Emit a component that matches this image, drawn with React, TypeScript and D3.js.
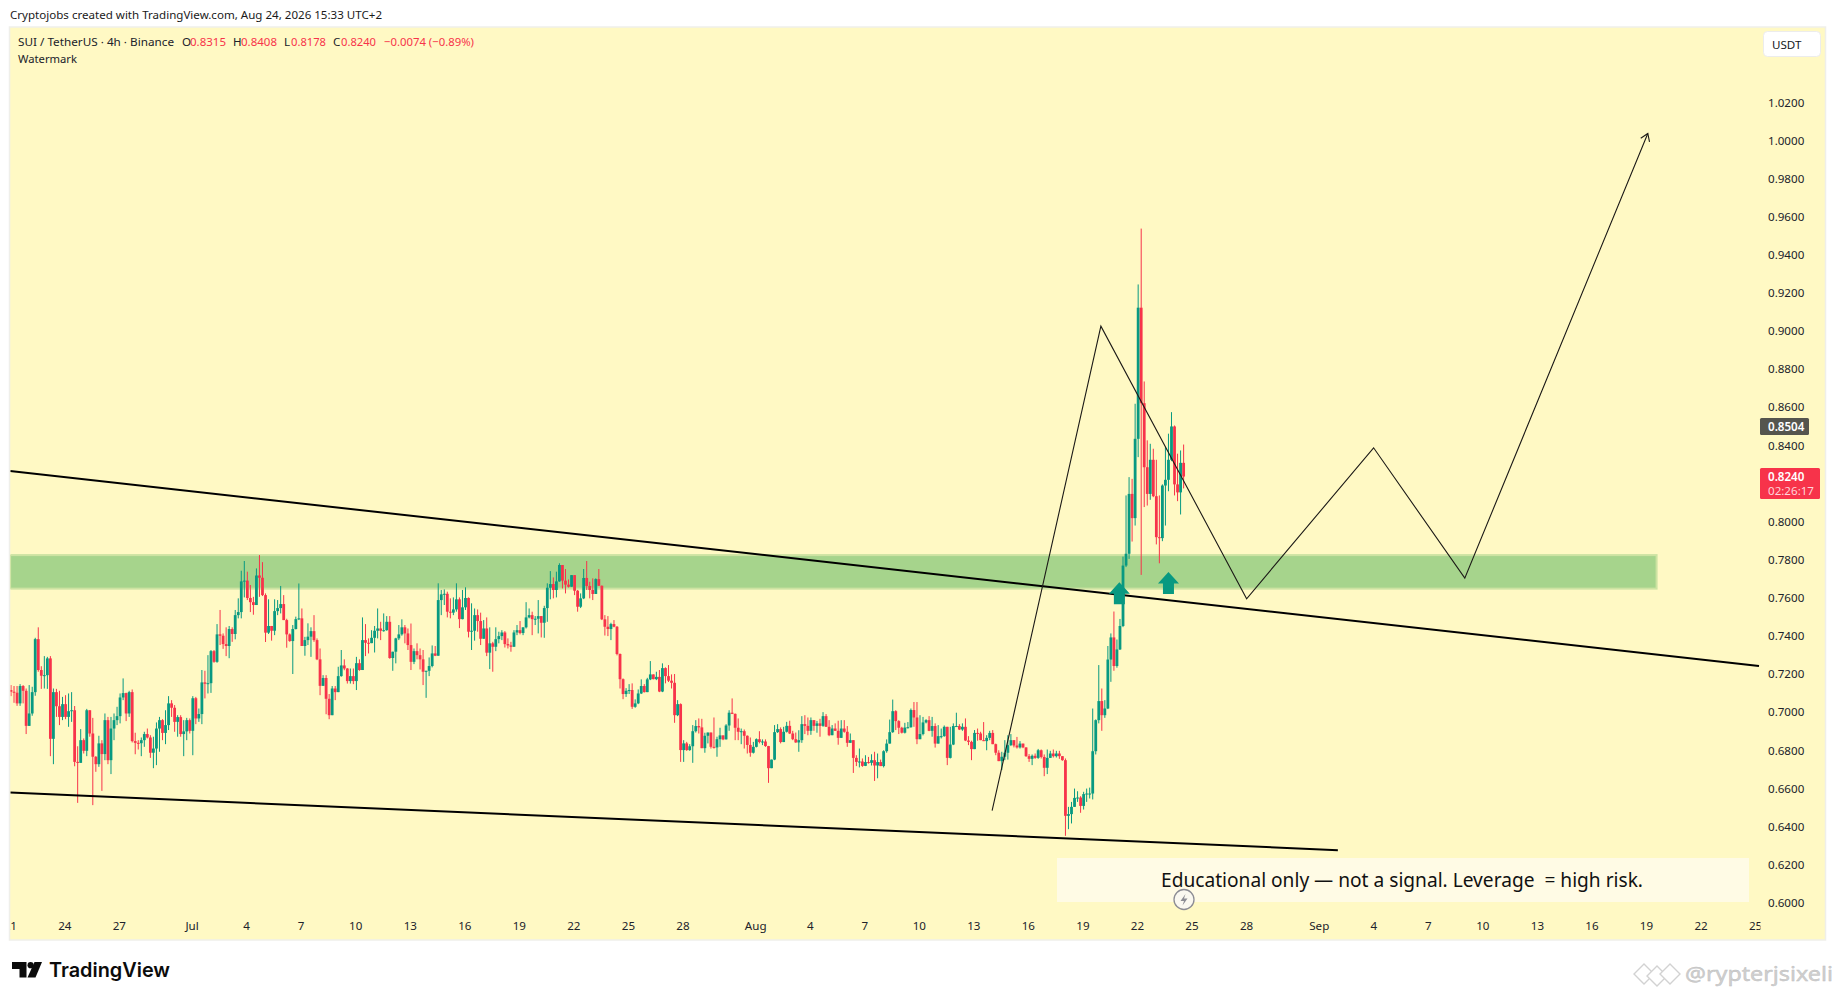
import React, { useRef, useEffect } from 'react';
import * as d3 from 'd3';

// prices are in ten-thousandths of a USDT. open = previous close
const firstOpen = 7120;
const closes = [
  7111,7106,7050,7141,7116,6932,6997,7109,7387,7225,7195,7198,7286,6864,7109,7035,6979,7046,6979,7009,
  7014,6743,6738,6857,6801,7014,6892,6770,6731,6840,6784,6962,6752,6918,6962,6983,7081,7104,6997,7109,
  6852,6843,6841,6857,6889,6871,6791,6813,6918,6962,6895,6936,7050,7027,6953,6978,6889,6903,6962,6906,
  7077,6971,6994,7160,7153,7156,7324,7268,7412,7405,7361,7351,7440,7414,7513,7529,7690,7694,7603,7581,
  7566,7721,7709,7618,7421,7456,7431,7534,7550,7571,7487,7412,7377,7440,7492,7496,7351,7382,7400,7429,
  7382,7281,7142,7183,7074,6988,7128,7109,7193,7249,7233,7167,7193,7167,7261,7225,7382,7368,7366,7394,
  7431,7443,7431,7434,7478,7288,7321,7391,7412,
  7449,7417,7356,7268,7324,7303,7281,7216,7221,7246,7312,7300,7592,7622,7625,7531,7526,7543,7596,7492,
  7554,7603,7426,7431,7513,7482,7389,7443,7316,7365,7347,7387,7403,7422,7361,7354,7347,7422,7434,7419,
  7449,7501,7513,7492,7494,7508,7473,7550,7657,7676,7645,7690,7776,7694,7673,7662,7723,7641,7557,7601,
  7708,7666,7645,7624,7702,7667,7491,7452,7440,7466,7452,7309,7177,7099,7116,7120,7032,7050,7102,7141,
  7109,7176,7202,7177,7189,7112,7235,7193,7169,7158,6988,7046,6805,6840,6805,6825,6904,6931,6924,6815,
  6880,6897,6822,6819,6862,6882,6861,6934,7001,6995,6922,6901,6904,6880,6832,6791,6822,6862,6847,6850,
  6826,6710,6755,6899,6915,6847,6901,6932,6892,6862,6845,6857,
  6941,6932,6906,6962,6932,6945,6932,6983,6927,6883,6918,6906,6869,6918,6901,6843,6857,6764,6743,6745,
  6722,6742,6738,6752,6724,6742,6721,6799,6839,6899,7009,6957,6922,6896,6923,6925,7015,6976,6862,6889,
  6950,6962,6906,6931,6839,6878,6878,6927,6764,6834,6931,6931,6913,6927,6855,6848,6810,6895,6892,6857,
  6852,6869,6895,6836,6791,6747,6770,6791,6831,6857,6829,6819,6839,6819,6773,6759,6775,6764,6804,6769,
  6712,6764,6787,6773,6787,6773,6752,6460,6469,6507,6554,6556,6512,6574,6577,6577,6799,6962,7062,6988,
  7023,7280,7396,7246,7333,7456,7773,7835,8149,8022,8438,9126,8625,8289,8149,8328,8137,7922,7917,8193,
  8223,8328,8503,8199,8157,8312,8240,
];
const highs = [
  7146,7141,7141,7151,7146,7128,7146,7137,7394,7449,7245,7298,7294,7298,7128,7126,7116,7084,7093,7102,
  7109,7036,6825,6915,6866,7021,7014,6974,6773,6880,6857,6997,6979,6979,6997,7032,7102,7181,7106,7116,
  7123,6896,6857,6871,6901,6918,6883,6875,6950,6979,6967,7014,7088,7067,7041,6988,6988,6962,6974,6971,
  7088,7084,7023,7225,7221,7303,7330,7330,7466,7540,7417,7449,7456,7449,7540,7601,7746,7797,7741,7671,
  7609,7758,7828,7791,7627,7596,7456,7596,7592,7666,7618,7494,7417,7461,7505,7679,7548,7399,7470,7449,
  7513,7391,7338,7198,7198,7099,7141,7141,7242,7330,7281,7235,7233,7233,7294,7281,7501,7466,7391,7434,
  7456,7548,7478,7522,7508,7508,7321,7394,7461,
  7491,7461,7443,7469,7338,7365,7338,7330,7221,7291,7354,7351,7680,7645,7648,7636,7601,7606,7680,7606,
  7645,7659,7606,7575,7548,7543,7526,7487,7501,7449,7373,7449,7426,7434,7429,7391,7373,7434,7461,7482,
  7449,7581,7548,7531,7508,7592,7508,7562,7680,7744,7711,7741,7785,7776,7755,7700,7723,7723,7645,7627,
  7755,7797,7688,7706,7706,7755,7669,7513,7508,7473,7487,7456,7312,7181,7130,7151,7155,7071,7123,7176,
  7151,7184,7272,7202,7216,7225,7260,7239,7251,7202,7204,7067,7050,6857,6848,6836,6936,6962,6971,6969,
  6896,6897,6896,6976,6875,6922,6882,6941,7014,7076,6997,6971,6918,6913,6882,6871,6848,6866,6904,6861,
  6861,6827,6755,6936,6941,6924,6927,6953,6959,6906,6897,6909,
  6983,6988,6976,6976,6962,6958,6969,7004,6994,6962,6936,6945,6959,6962,6962,6931,6892,6857,6778,6813,
  6761,6778,6769,6783,6796,6787,6755,6804,6861,6965,7070,7014,6962,6927,6948,6952,7023,7057,7057,6988,
  6979,6967,6983,6979,6945,6936,6918,6934,6927,6927,6945,7001,6941,6945,6971,6878,6854,6910,6918,6901,
  6952,6883,6906,6910,6839,6804,6796,6857,6883,6889,6857,6874,6852,6839,6819,6784,6782,6787,6811,6808,
  6782,6808,6801,6808,6801,6801,6761,6761,6507,6533,6603,6589,6563,6586,6603,6608,7023,6966,7251,7128,
  7067,7351,7417,7532,7385,7493,7820,8141,8237,8228,8622,9248,9541,8739,8430,8412,8386,8328,8141,8199,
  8395,8465,8578,8508,8360,8377,8408,
];
const lows = [
  7088,7053,7037,7037,7050,6889,6932,6985,7090,7216,7126,7128,7126,6773,6731,6979,6936,6962,6967,6927,
  6953,6720,6528,6738,6787,6773,6875,6516,6691,6717,6591,6752,6731,6679,6857,6936,6945,7067,6957,6979,
  6845,6783,6808,6773,6822,6866,6764,6710,6726,6796,6857,6836,6910,6979,6901,6875,6875,6773,6857,6892,
  6778,6941,6953,6941,7076,7102,7105,7263,7263,7356,7336,7298,7287,7373,7386,7496,7496,7606,7592,7529,
  7515,7566,7609,7613,7372,7414,7379,7408,7513,7522,7487,7342,7373,7204,7438,7487,7351,7300,7356,7294,
  7373,7277,7093,7142,6993,6967,6988,7067,7109,7190,7224,7154,7154,7151,7120,7221,7225,7298,7312,7368,
  7317,7391,7382,7426,7431,7284,7221,7260,7382,
  7405,7365,7330,7225,7256,7281,7228,7146,7079,7193,7239,7298,7300,7513,7566,7501,7496,7513,7531,7445,
  7491,7540,7396,7330,7379,7426,7356,7389,7298,7230,7216,7324,7365,7382,7343,7338,7321,7347,7408,7412,
  7408,7443,7496,7408,7461,7417,7396,7394,7478,7596,7601,7606,7688,7653,7627,7658,7662,7618,7531,7550,
  7597,7645,7601,7592,7627,7667,7487,7406,7403,7382,7449,7302,7128,7072,7084,7099,7021,7027,7046,7099,
  7107,7109,7172,7176,7172,7109,7109,7155,7162,7128,6948,6983,6743,6743,6801,6801,6738,6897,6892,6815,
  6791,6840,6813,6813,6770,6822,6857,6861,6906,6994,6857,6857,6836,6813,6787,6770,6787,6819,6840,6831,
  6822,6633,6710,6752,6895,6840,6847,6897,6889,6857,6843,6796,
  6843,6889,6883,6885,6906,6896,6875,6927,6927,6878,6883,6906,6833,6869,6896,6822,6843,6685,6721,6714,
  6717,6721,6734,6724,6643,6657,6721,6714,6791,6839,6895,6910,6889,6892,6892,6918,6922,6927,6836,6862,
  6882,6945,6904,6875,6818,6839,6866,6875,6726,6761,6831,6927,6910,6906,6852,6831,6752,6810,6854,6857,
  6852,6804,6857,6836,6778,6747,6700,6752,6755,6826,6819,6813,6813,6815,6769,6743,6726,6759,6759,6761,
  6668,6679,6766,6766,6766,6759,6749,6355,6390,6420,6512,6533,6476,6493,6533,6551,6546,6782,6945,6906,
  6974,7020,7163,7221,7237,7330,7450,7765,7808,7899,7983,8342,7724,8080,8088,8118,8132,7884,7785,7901,
  7983,8163,8321,8141,8111,8041,8178,
];

const priceTicks = [1.02, 1.0, 0.98, 0.96, 0.94, 0.92, 0.9, 0.88, 0.86, 0.84, 0.8, 0.78, 0.76, 0.74, 0.72, 0.7, 0.68, 0.66, 0.64, 0.62, 0.6];
const dayLabels = ['21', '24', '27', 'Jul', '4', '7', '10', '13', '16', '19', '22', '25', '28', 'Aug', '4', '7', '10', '13', '16', '19', '22', '25', '28', 'Sep', '4', '7', '10', '13', '16', '19', '22', '25'];
const dayOffsets = [0, 3, 6, 10, 13, 16, 19, 22, 25, 28, 31, 34, 37, 41, 44, 47, 50, 53, 56, 59, 62, 65, 68, 72, 75, 78, 81, 84, 87, 90, 93, 96];

// drawings: bar index, price
const upperTrend: [number, number][] = [[-0.3, 0.8269], [576.9, 0.7246]];
const lowerTrend: [number, number][] = [[-0.3, 0.6582], [437.9, 0.628]];
const projection: [number, number][] = [[323.8, 0.6487], [359.7, 0.9029], [407.8, 0.7599], [449.7, 0.8391], [479.8, 0.7707], [540.2, 1.004]];
const zoneBars = [-0.3, 543.1];
const zonePrices = [0.7828, 0.7652];
const arrowBars = [365.8, 382];
const arrowTips = [0.7685, 0.7739];

const GREEN = '#089981';
const RED = '#F7334A';
const FONT = '"Noto Sans", sans-serif';

export default function App() {
  const svgRef = useRef<SVGSVGElement | null>(null);

  useEffect(() => {
    if (!svgRef.current) return;
    const svg = d3.select(svgRef.current);
    svg.selectAll('*').remove();

    const x = d3.scaleLinear().domain([0, 600]).range([11, 1829]);
    const y = d3.scaleLinear().domain([0.6, 1.02]).range([903.5, 103]);
    const yp = (v: number) => y(v / 10000);

    // pane
    svg.append('rect').attr('x', 9.5).attr('y', 27).attr('width', 1816).attr('height', 913)
      .attr('fill', '#FFF9C4').attr('stroke', '#EFEFEA').attr('stroke-width', 1.5);

    const defs = svg.append('defs');
    defs.append('clipPath').attr('id', 'plot').append('rect')
      .attr('x', 10.5).attr('y', 28).attr('width', 1750).attr('height', 911);

    const plot = svg.append('g').attr('clip-path', 'url(#plot)');

    // support zone
    plot.append('rect')
      .attr('x', x(zoneBars[0])).attr('y', y(zonePrices[0]))
      .attr('width', x(zoneBars[1]) - x(zoneBars[0]))
      .attr('height', y(zonePrices[1]) - y(zonePrices[0]))
      .attr('fill', '#A6D48C').attr('stroke', '#CDE3A2').attr('stroke-width', 2);

    // candles
    const candles = plot.append('g');
    closes.forEach((c, i) => {
      const o = i === 0 ? firstOpen : closes[i - 1];
      const col = c >= o ? GREEN : RED;
      const cx = x(i);
      candles.append('line')
        .attr('x1', cx).attr('x2', cx)
        .attr('y1', yp(Math.max(highs[i], c, o))).attr('y2', yp(Math.min(lows[i], c, o)))
        .attr('stroke', col).attr('stroke-width', 1);
      candles.append('rect')
        .attr('x', cx - 1.4).attr('width', 2.8)
        .attr('y', yp(Math.max(o, c)))
        .attr('height', Math.max(1, yp(Math.min(o, c)) - yp(Math.max(o, c))))
        .attr('fill', col);
    });

    // trend lines
    const line = d3.line<[number, number]>().x(d => x(d[0])).y(d => y(d[1]));
    [upperTrend, lowerTrend].forEach(t => {
      plot.append('path').attr('d', line(t)).attr('fill', 'none')
        .attr('stroke', '#000').attr('stroke-width', 2);
    });

    // projected path with open arrow head
    plot.append('path').attr('d', line(projection)).attr('fill', 'none')
      .attr('stroke', '#1c1a17').attr('stroke-width', 1.1).attr('stroke-linejoin', 'miter');
    const tip = projection[projection.length - 1];
    const prev = projection[projection.length - 2];
    const ang = Math.atan2(y(tip[1]) - y(prev[1]), x(tip[0]) - x(prev[0]));
    const head = d3.path();
    const hl = 8.5;
    head.moveTo(x(tip[0]) + hl * Math.cos(ang + 2.55), y(tip[1]) + hl * Math.sin(ang + 2.55));
    head.lineTo(x(tip[0]), y(tip[1]));
    head.lineTo(x(tip[0]) + hl * Math.cos(ang - 2.55), y(tip[1]) + hl * Math.sin(ang - 2.55));
    plot.append('path').attr('d', head.toString()).attr('fill', 'none')
      .attr('stroke', '#1c1a17').attr('stroke-width', 1.1);

    // buy arrows
    arrowBars.forEach((b, i) => {
      const cx = x(b);
      const ty = y(arrowTips[i]);
      const pts = [[0, 0], [10.5, 11.5], [5.5, 11.5], [5.5, 22], [-5.5, 22], [-5.5, 11.5], [-10.5, 11.5]];
      plot.append('polygon')
        .attr('points', pts.map(p => `${cx + p[0]},${ty + p[1]}`).join(' '))
        .attr('fill', GREEN);
    });

    // disclaimer box
    svg.append('rect').attr('x', 1057).attr('y', 858).attr('width', 692).attr('height', 44).attr('fill', '#FFFBE5');
    svg.append('text').attr('x', 1161).attr('y', 886.5)
      .attr('font-family', FONT).attr('font-size', 19.5).attr('fill', '#111')
      .text('Educational only — not a signal. Leverage  = high risk.')
      .attr('textLength', 482).attr('lengthAdjust', 'spacingAndGlyphs')
      .attr('xml:space', 'preserve');

    // lightning badge
    svg.append('circle').attr('cx', 1184).attr('cy', 899.5).attr('r', 10)
      .attr('fill', '#FAF8F0').attr('stroke', '#8C8C94').attr('stroke-width', 1.3);
    svg.append('path').attr('d', 'M1185.5 894 L1180.5 901 L1184 901 L1182.5 905.5 L1187.5 898.5 L1184 898.5 Z').attr('fill', '#8C8C94');

    // price axis
    priceTicks.forEach(p => {
      svg.append('text').attr('x', 1768).attr('y', y(p) + 3.5)
        .attr('font-family', FONT).attr('font-size', 11.6).attr('fill', '#20222a')
        .text(p.toFixed(4));
    });

    // date axis
    const axisG = svg.append('g').attr('clip-path', 'url(#plot)');
    dayLabels.forEach((l, i) => {
      axisG.append('text').attr('x', x(dayOffsets[i] * 6) - 0.7).attr('y', 929.5)
        .attr('text-anchor', 'middle')
        .attr('font-family', FONT).attr('font-size', 11.6).attr('fill', '#20222a')
        .text(l);
    });

    // USDT button
    svg.append('rect').attr('x', 1763.5).attr('y', 31.5).attr('width', 57).attr('height', 25).attr('rx', 4)
      .attr('fill', '#fff').attr('stroke', '#ECECEC');
    svg.append('text').attr('x', 1772).attr('y', 48.5)
      .attr('font-family', FONT).attr('font-size', 11.6).attr('fill', '#131722').text('USDT');

    // price labels
    svg.append('rect').attr('x', 1760).attr('y', 418).attr('width', 49).attr('height', 17).attr('rx', 1.5).attr('fill', '#55554E');
    svg.append('text').attr('x', 1768).attr('y', 430.5).attr('font-family', FONT).attr('font-size', 11.6)
      .attr('font-weight', 600).attr('fill', '#fff').text('0.8504');
    svg.append('rect').attr('x', 1760).attr('y', 468).attr('width', 60).attr('height', 31).attr('rx', 1.5).attr('fill', RED);
    svg.append('text').attr('x', 1768).attr('y', 481).attr('font-family', FONT).attr('font-size', 11.6)
      .attr('font-weight', 600).attr('fill', '#fff').text('0.8240');
    svg.append('text').attr('x', 1768).attr('y', 494.5).attr('font-family', FONT).attr('font-size', 11.6)
      .attr('fill', '#FFD5DA').text('02:26:17');

    // header
    const txt = (s: string, tx: number, ty: number, fill: string, w?: number) => {
      const t = svg.append('text').attr('x', tx).attr('y', ty)
        .attr('font-family', FONT).attr('font-size', 11.6).attr('fill', fill).text(s);
      if (w) t.attr('textLength', w).attr('lengthAdjust', 'spacingAndGlyphs');
    };
    txt('Cryptojobs created with TradingView.com, Aug 24, 2026 15:33 UTC+2', 10, 19, '#1a1a1a', 372);
    txt('SUI / TetherUS · 4h · Binance', 18, 46, '#20222a', 156);
    txt('O', 182, 46, '#20222a');
    txt('0.8315', 190, 46, RED, 36);
    txt('H', 233, 46, '#20222a');
    txt('0.8408', 241, 46, RED, 36);
    txt('L', 284, 46, '#20222a');
    txt('0.8178', 291, 46, RED, 35);
    txt('C', 333, 46, '#20222a');
    txt('0.8240', 341, 46, RED, 35);
    txt('−0.0074 (−0.89%)', 384, 46, RED, 90);
    txt('Watermark', 18, 62.5, '#20222a', 59);

    // footer logo
    svg.append('path').attr('d', 'M12 962 H26.5 V977.5 H19.5 V969 H12 Z').attr('fill', '#0b0b0b');
    svg.append('circle').attr('cx', 30.6).attr('cy', 965.2).attr('r', 3.1).attr('fill', '#0b0b0b');
    svg.append('path').attr('d', 'M34.5 962 H42 L35.5 977.5 H27.5 Z').attr('fill', '#0b0b0b');
    svg.append('text').attr('x', 49).attr('y', 977)
      .attr('font-family', 'Inter, sans-serif').attr('font-size', 20).attr('font-weight', 600).attr('fill', '#0b0b0b')
      .text('TradingView').attr('textLength', 121).attr('lengthAdjust', 'spacingAndGlyphs');

    // repost watermark
    const wm = svg.append('g').attr('fill', '#fff').attr('stroke', '#d2d2d2').attr('stroke-width', 1.4);
    [1644, 1657, 1670].forEach((cx, i) => {
      wm.append('path').attr('d', `M${cx} ${964 + (i % 2) * 2} l10 10 l-10 10 l-10 -10 Z`);
    });
    svg.append('text').attr('x', 1685).attr('y', 981)
      .attr('font-family', FONT).attr('font-size', 20).attr('fill', '#d0d0d0')
      .attr('stroke', '#bcbcbc').attr('stroke-width', 0.4)
      .text('@rypterjsixeli').attr('textLength', 148).attr('lengthAdjust', 'spacingAndGlyphs');
  }, []);

  return (
    <svg
      ref={svgRef}
      width={1835}
      height={1000}
      style={{ position: 'absolute', left: 0, top: 0, background: '#fff' }}
    />
  );
}
